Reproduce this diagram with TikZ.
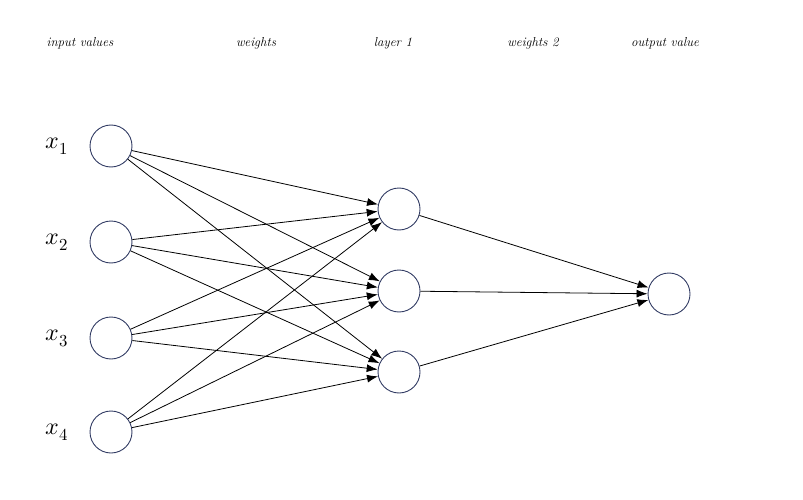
\documentclass[tikz,border=0pt]{standalone}
\usepackage{fontspec}
\usepackage{unicode-math}
\usetikzlibrary{arrows.meta}
\definecolor{ring}{RGB}{50,60,100}
\begin{document}
\begin{tikzpicture}[x=1pt,y=-1pt,
  neuron/.style={circle,draw=ring,line width=0.9pt,minimum size=42pt,inner sep=0pt},
  conn/.style={-{Latex[length=11pt,width=8pt]},line width=0.8pt},
  head/.style={font=\fontsize{13}{15}\selectfont\itshape},
  xl/.style={font=\fontsize{24}{26}\selectfont}]
\useasboundingbox (0,0) rectangle (803,500);
\node[head] (h1) at (80,43) {input values};
\node[head] (h2) at (256,43) {weights};
\node[head] (h3) at (393,43) {layer 1};
\node[head] (h4) at (533,43) {weights 2};
\node[head] (h5) at (665,43) {output value};
\foreach \i/\y in {1/146,2/242,3/338,4/432}{
  \node[neuron] (i\i) at (111,\y) {};
  \node[xl] (l\i) at (57,\y) {$x_{\i}$};
}
\foreach \j/\y in {1/209,2/291,3/372}{
  \node[neuron] (h\j n) at (399,\y) {};
}
\node[neuron] (o) at (669,294) {};
\foreach \i in {1,2,3,4}{\foreach \j in {1,2,3}{\draw[conn] (i\i) -- (h\j n);}}
\foreach \j in {1,2,3}{\draw[conn] (h\j n) -- (o);}
\end{tikzpicture}
\end{document}
